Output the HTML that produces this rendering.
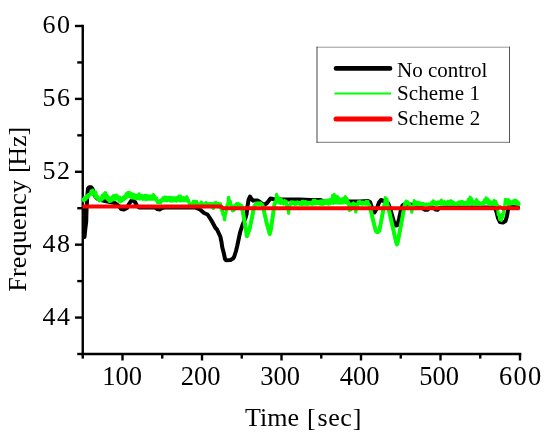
<!DOCTYPE html>
<html><head><meta charset="utf-8"><title>Frequency chart</title>
<style>html,body{margin:0;padding:0;background:#fff}body{width:550px;height:440px;overflow:hidden}</style></head>
<body>
<svg width="550" height="440" viewBox="0 0 550 440" style="display:block">
<rect width="550" height="440" fill="#fff"/>
<g stroke="#000" stroke-width="2.4" fill="none" stroke-linecap="butt">
<path d="M82.75,24.75 V355.25"/>
<path d="M81.5,354.0 H521.25"/>
<path d="M74.95,26.00 H82.75"/>
<path d="M77.25,62.44 H82.75"/>
<path d="M74.95,98.89 H82.75"/>
<path d="M77.25,135.33 H82.75"/>
<path d="M74.95,171.78 H82.75"/>
<path d="M77.25,208.22 H82.75"/>
<path d="M74.95,244.67 H82.75"/>
<path d="M77.25,281.11 H82.75"/>
<path d="M74.95,317.56 H82.75"/>
<path d="M77.25,354.00 H82.75"/>
<path d="M82.75,354.0 V358.60"/>
<path d="M122.50,354.0 V360.50"/>
<path d="M162.25,354.0 V358.60"/>
<path d="M202.00,354.0 V360.50"/>
<path d="M241.75,354.0 V358.60"/>
<path d="M281.50,354.0 V360.50"/>
<path d="M321.25,354.0 V358.60"/>
<path d="M361.00,354.0 V360.50"/>
<path d="M400.75,354.0 V358.60"/>
<path d="M440.50,354.0 V360.50"/>
<path d="M480.25,354.0 V358.60"/>
<path d="M520.00,354.0 V360.50"/>
</g>
<g font-family="'Liberation Serif','Times New Roman',serif" font-size="26" fill="#000">
<text x="71.4" y="33.4" text-anchor="end" letter-spacing="1.5">60</text>
<text x="71.4" y="106.3" text-anchor="end" letter-spacing="1.5">56</text>
<text x="71.4" y="179.2" text-anchor="end" letter-spacing="1.5">52</text>
<text x="71.4" y="252.1" text-anchor="end" letter-spacing="1.5">48</text>
<text x="71.4" y="325.0" text-anchor="end" letter-spacing="1.5">44</text>
<text x="122.2" y="385.3" text-anchor="middle" font-size="26.5">100</text>
<text x="200.7" y="385.3" text-anchor="middle" font-size="26.5">200</text>
<text x="280.2" y="385.3" text-anchor="middle" font-size="26.5">300</text>
<text x="359.7" y="385.3" text-anchor="middle" font-size="26.5">400</text>
<text x="439.2" y="385.3" text-anchor="middle" font-size="26.5">500</text>
<text x="520.8" y="385.3" text-anchor="middle" font-size="26.5" letter-spacing="1.2">600</text>
</g>
<text font-family="'Liberation Serif','Times New Roman',serif" font-size="26" x="245" y="426.3">Time <tspan dx="1.65">[</tspan><tspan dx="1.65">s</tspan><tspan dx="0.6">e</tspan><tspan dx="0.6">c</tspan><tspan dx="0.8">]</tspan></text>
<text font-family="'Liberation Serif','Times New Roman',serif" font-size="26" transform="translate(26,291.75) rotate(-90)"><tspan letter-spacing="0.24">Frequency</tspan> <tspan dx="0.4">[</tspan><tspan dx="-1.5">H</tspan>z]</text>
<path d="M84.5,237.0 L85.3,229.0 L86.2,222.0 L86.6,208.0 L87.3,196.0 L88.0,188.5 L89.0,187.3 L91.3,187.3 L92.5,189.0 L93.5,193.0 L95.0,196.0 L97.0,198.5 L99.0,199.5 L101.0,200.0 L105.0,201.0 L110.0,202.0 L115.0,203.0 L119.0,206.0 L121.0,209.0 L124.0,209.5 L127.0,208.0 L129.0,204.0 L131.0,201.0 L133.0,200.5 L135.0,202.0 L137.0,206.0 L139.0,207.5 L155.0,207.5 L157.0,209.0 L160.0,209.5 L162.0,208.0 L165.0,207.5 L195.0,207.5 L200.0,209.5 L204.0,213.0 L207.5,214.5 L210.5,219.0 L212.0,221.5 L215.5,228.0 L217.0,229.5 L220.3,236.5 L221.5,242.0 L222.2,247.0 L224.0,254.0 L225.0,259.0 L226.0,260.3 L230.5,260.0 L233.0,258.5 L234.1,257.0 L236.0,251.0 L237.2,246.0 L238.9,238.0 L240.2,232.0 L242.0,226.5 L243.5,222.5 L245.5,218.0 L246.6,214.0 L247.4,207.0 L248.5,200.0 L250.0,196.5 L251.5,199.0 L253.0,200.5 L257.5,200.5 L260.0,202.0 L264.0,205.0 L267.0,203.0 L270.5,198.5 L273.0,199.0 L280.0,199.5 L290.0,199.5 L300.0,199.5 L310.0,200.0 L321.0,200.0 L323.0,201.5 L330.0,201.5 L345.0,201.5 L360.0,201.5 L368.0,201.0 L370.0,202.0 L372.0,208.0 L374.5,212.5 L377.0,208.0 L379.0,202.5 L381.0,200.0 L384.0,201.0 L388.0,203.0 L390.0,208.0 L392.0,215.0 L394.0,222.0 L396.0,225.5 L397.5,225.0 L399.0,219.0 L401.0,210.0 L402.5,205.5 L404.0,204.5 L410.0,204.5 L416.0,205.0 L420.0,206.0 L423.0,208.5 L425.0,209.8 L427.5,209.8 L429.5,208.0 L433.0,207.5 L435.5,209.5 L437.5,209.8 L439.5,208.0 L445.0,207.5 L495.0,207.5 L496.5,212.0 L498.0,218.0 L500.0,222.0 L503.0,222.5 L505.5,221.0 L507.0,216.0 L508.0,210.0 L509.0,207.5 L512.0,207.0 L518.0,207.5" fill="none" stroke="#000" stroke-width="4" stroke-linejoin="round" stroke-linecap="round"/>
<path d="M85.2,207 V227" fill="none" stroke="#000" stroke-width="3"/>
<path d="M83.0,199.1 L83.8,200.8 L84.6,197.7 L85.4,199.5 L86.2,196.2 L87.0,198.0 L87.8,194.8 L88.6,196.8 L89.4,194.3 L90.2,194.9 L91.0,192.2 L91.8,193.9 L92.6,190.1 L93.4,194.1 L94.2,192.0 L95.0,196.6 L95.8,192.0 L96.6,198.2 L97.4,196.3 L98.2,199.6 L99.0,197.9 L99.8,200.8 L100.6,198.1 L101.4,200.0 L102.2,195.6 L103.0,198.9 L103.8,193.9 L104.6,197.3 L105.4,192.6 L106.2,198.2 L107.0,195.0 L107.8,199.8 L108.6,197.3 L109.4,201.4 L110.2,199.6 L111.0,201.1 L111.8,197.1 L112.6,200.0 L113.4,195.7 L114.2,199.4 L115.0,195.7 L115.8,199.2 L116.6,195.1 L117.4,198.9 L118.2,196.7 L119.0,201.1 L119.8,197.1 L120.6,201.8 L121.4,199.1 L122.2,200.9 L123.0,197.7 L123.8,199.7 L124.6,196.0 L125.4,198.5 L126.2,193.9 L127.0,197.3 L127.8,192.6 L128.6,196.4 L129.4,192.4 L130.2,196.8 L131.0,193.3 L131.8,197.8 L132.6,194.0 L133.4,198.2 L134.2,194.6 L135.0,198.1 L135.8,195.3 L136.6,198.8 L137.4,195.5 L138.2,198.6 L139.0,193.9 L139.8,199.1 L140.6,195.5 L141.4,198.6 L142.2,195.6 L143.0,199.3 L143.8,195.9 L144.6,199.1 L145.4,195.4 L146.2,199.7 L147.0,195.5 L147.8,199.2 L148.6,196.1 L149.4,199.1 L150.2,195.9 L151.0,199.2 L151.8,196.1 L152.6,199.1 L153.4,194.6 L154.2,199.2 L155.0,196.6 L155.8,199.8 L156.6,198.2 L157.4,202.5 L158.2,200.9 L159.0,202.6 L159.8,200.7 L160.6,202.7 L161.4,199.9 L162.2,201.0 L163.0,197.9 L163.8,200.2 L164.6,197.1 L165.4,200.7 L166.2,197.1 L167.0,200.9 L167.8,197.7 L168.6,200.2 L169.4,197.5 L170.2,201.0 L171.0,197.5 L171.8,200.9 L172.6,197.7 L173.4,201.0 L174.2,197.9 L175.0,200.7 L175.8,197.9 L176.6,201.2 L177.4,197.3 L178.2,200.3 L179.0,196.0 L179.8,201.0 L180.6,196.0 L181.4,200.6 L182.2,197.9 L183.0,200.6 L183.8,197.7 L184.6,200.6 L185.4,197.9 L186.2,200.9 L187.0,196.7 L187.8,201.2 L188.6,200.3 L189.4,204.8 L190.2,203.8 L191.0,206.2 L191.8,203.9 L192.6,206.0 L193.4,201.4 L194.2,205.8 L195.0,201.4 L195.8,206.4 L196.6,201.4 L197.4,206.5 L198.2,203.9 L199.0,206.3 L199.8,203.9 L200.6,206.5 L201.4,202.1 L202.2,206.3 L203.0,203.9 L203.8,206.2 L204.6,203.9 L205.4,206.7 L206.2,202.5 L207.0,206.5 L207.8,203.7 L208.6,206.3 L209.4,203.7 L210.2,206.4 L211.0,203.6 L211.8,207.2 L212.6,203.9 L213.4,208.4 L214.2,203.1 L215.0,206.2 L215.8,202.5 L216.6,205.8 L217.4,203.5 L218.2,206.3 L219.0,203.6 L219.8,207.5 L220.6,203.9 L221.4,210.2 L222.2,208.4 L223.0,214.8 L223.8,215.5 L224.6,219.8 L225.4,213.8 L226.2,211.8 L227.0,204.8 L227.8,204.8 L228.6,197.4 L229.4,200.9 L230.2,201.0 L231.0,205.9 L231.8,205.8 L232.6,211.0 L233.4,207.2 L234.2,210.3 L235.0,205.3 L235.8,206.7 L236.6,203.6 L237.4,205.8 L238.2,203.6 L239.0,205.4 L239.8,204.4 L240.6,206.0 L241.4,205.4 L242.2,209.5 L243.0,211.9 L243.8,217.7 L244.6,221.6 L245.4,227.3 L246.2,231.4 L247.0,236.3 L247.8,233.4 L248.6,232.1 L249.4,229.0 L250.2,226.6 L251.0,221.8 L251.8,218.8 L252.6,213.9 L253.4,210.8 L254.2,206.7 L255.0,205.7 L255.8,203.2 L256.6,204.1 L257.4,202.9 L258.2,204.3 L259.0,202.9 L259.8,204.3 L260.6,202.9 L261.4,204.2 L262.2,204.3 L263.0,207.2 L263.8,209.9 L264.6,214.4 L265.4,216.9 L266.2,221.4 L267.0,223.9 L267.8,227.6 L268.6,229.5 L269.4,233.1 L270.2,231.9 L271.0,229.1 L271.8,222.7 L272.6,218.1 L273.4,211.6 L274.2,206.7 L275.0,201.5 L275.8,203.0 L276.6,194.3 L277.4,200.1 L278.2,197.4 L279.0,202.7 L279.8,199.4 L280.6,203.5 L281.4,199.4 L282.2,203.2 L283.0,200.9 L283.8,204.0 L284.6,200.6 L285.4,203.5 L286.2,201.3 L287.0,208.2 L287.8,207.1 L288.6,213.3 L289.4,205.4 L290.2,205.4 L291.0,201.9 L291.8,203.7 L292.6,202.0 L293.4,203.8 L294.2,202.1 L295.0,204.4 L295.8,202.3 L296.6,204.2 L297.4,202.0 L298.2,203.8 L299.0,202.4 L299.8,204.1 L300.6,202.5 L301.4,204.3 L302.2,201.4 L303.0,204.3 L303.8,201.5 L304.6,204.0 L305.4,201.6 L306.2,204.3 L307.0,202.2 L307.8,204.4 L308.6,202.4 L309.4,203.9 L310.2,202.3 L311.0,204.1 L311.8,202.1 L312.6,204.3 L313.4,200.3 L314.2,204.0 L315.0,200.1 L315.8,204.0 L316.6,201.4 L317.4,203.6 L318.2,201.3 L319.0,203.8 L319.8,201.1 L320.6,204.1 L321.4,200.9 L322.2,204.3 L323.0,201.0 L323.8,204.2 L324.6,200.8 L325.4,203.6 L326.2,200.5 L327.0,203.7 L327.8,200.1 L328.6,204.1 L329.4,199.9 L330.2,203.8 L331.0,199.2 L331.8,202.8 L332.6,195.5 L333.4,203.4 L334.2,194.4 L335.0,203.0 L335.8,196.0 L336.6,202.8 L337.4,196.7 L338.2,203.1 L339.0,198.4 L339.8,203.1 L340.6,199.6 L341.4,203.0 L342.2,198.8 L343.0,203.0 L343.8,198.0 L344.6,202.7 L345.4,196.6 L346.2,202.5 L347.0,198.5 L347.8,204.0 L348.6,202.5 L349.4,210.5 L350.2,203.9 L351.0,209.6 L351.8,204.1 L352.6,204.9 L353.4,202.9 L354.2,207.2 L355.0,204.1 L355.8,212.0 L356.6,205.0 L357.4,206.3 L358.2,201.8 L359.0,203.8 L359.8,201.6 L360.6,203.9 L361.4,202.2 L362.2,204.3 L363.0,202.2 L363.8,203.8 L364.6,202.3 L365.4,204.0 L366.2,201.4 L367.0,204.1 L367.8,201.4 L368.6,203.9 L369.4,205.0 L370.2,208.9 L371.0,210.9 L371.8,215.2 L372.6,217.7 L373.4,222.0 L374.2,224.2 L375.0,228.3 L375.8,230.5 L376.6,232.0 L377.4,231.6 L378.2,232.1 L379.0,230.7 L379.8,228.7 L380.6,223.6 L381.4,220.4 L382.2,215.2 L383.0,212.0 L383.8,207.0 L384.6,204.8 L385.4,197.7 L386.2,202.5 L387.0,199.2 L387.8,205.9 L388.6,208.2 L389.4,212.6 L390.2,215.3 L391.0,219.7 L391.8,222.4 L392.6,226.8 L393.4,229.6 L394.2,234.1 L395.0,236.8 L395.8,241.3 L396.6,242.9 L397.4,243.5 L398.2,239.2 L399.0,235.9 L399.8,230.8 L400.6,227.4 L401.4,222.3 L402.2,218.9 L403.0,213.6 L403.8,210.1 L404.6,205.3 L405.4,203.4 L406.2,201.1 L407.0,204.0 L407.8,201.9 L408.6,204.2 L409.4,203.5 L410.2,207.9 L411.0,206.2 L411.8,212.2 L412.6,206.4 L413.4,207.5 L414.2,200.6 L415.0,204.3 L415.8,202.0 L416.6,204.7 L417.4,202.4 L418.2,204.6 L419.0,202.7 L419.8,204.8 L420.6,203.1 L421.4,204.6 L422.2,203.5 L423.0,204.7 L423.8,203.8 L424.6,204.8 L425.4,204.1 L426.2,204.7 L427.0,204.1 L427.8,204.8 L428.6,204.1 L429.4,204.7 L430.2,204.1 L431.0,204.9 L431.8,202.2 L432.6,204.0 L433.4,200.8 L434.2,204.2 L435.0,202.0 L435.8,204.4 L436.6,203.0 L437.4,204.3 L438.2,201.9 L439.0,203.8 L439.8,202.0 L440.6,204.1 L441.4,200.0 L442.2,204.1 L443.0,201.9 L443.8,204.3 L444.6,201.7 L445.4,204.3 L446.2,202.5 L447.0,203.9 L447.8,201.5 L448.6,204.3 L449.4,201.5 L450.2,204.3 L451.0,200.7 L451.8,204.2 L452.6,201.8 L453.4,204.0 L454.2,202.8 L455.0,204.3 L455.8,203.9 L456.6,204.3 L457.4,202.9 L458.2,204.0 L459.0,201.9 L459.8,204.0 L460.6,201.8 L461.4,204.2 L462.2,201.4 L463.0,204.1 L463.8,202.5 L464.6,204.0 L465.4,202.4 L466.2,204.4 L467.0,201.9 L467.8,203.5 L468.6,199.4 L469.4,204.4 L470.2,197.2 L471.0,203.2 L471.8,198.9 L472.6,203.7 L473.4,201.4 L474.2,204.3 L475.0,202.0 L475.8,203.9 L476.6,199.6 L477.4,204.0 L478.2,201.8 L479.0,204.2 L479.8,202.8 L480.6,204.2 L481.4,203.1 L482.2,203.9 L483.0,202.1 L483.8,203.6 L484.6,199.9 L485.4,202.7 L486.2,197.9 L487.0,202.7 L487.8,199.0 L488.6,203.7 L489.4,200.9 L490.2,204.4 L491.0,201.9 L491.8,203.7 L492.6,202.2 L493.4,204.1 L494.2,200.5 L495.0,204.3 L495.8,201.5 L496.6,205.0 L497.4,204.9 L498.2,214.7 L499.0,214.4 L499.8,219.4 L500.6,215.5 L501.4,220.3 L502.2,214.3 L503.0,216.6 L503.8,208.6 L504.6,206.8 L505.4,199.3 L506.2,203.2 L507.0,199.9 L507.8,203.7 L508.6,199.7 L509.4,204.1 L510.2,201.5 L511.0,204.0 L511.8,202.0 L512.6,203.7 L513.4,200.9 L514.2,203.2 L515.0,200.1 L515.8,203.6 L516.6,200.7 L517.4,203.4 L518.2,202.3 L519.0,204.3" fill="none" stroke="#00ff00" stroke-width="3.2" stroke-linejoin="round" stroke-linecap="round"/>
<path d="M241.5,206.0 L243.0,212.4 L245.7,228.7 L246.9,236.3 L249.7,228.7 L253.5,210.0 L254.5,206.0" fill="none" stroke="#00ff00" stroke-width="3.9" stroke-linejoin="round" stroke-linecap="round"/>
<path d="M262.8,206.0 L263.7,210.0 L267.0,224.4 L269.8,234.2 L271.0,228.7 L273.7,210.0 L274.5,204.0" fill="none" stroke="#00ff00" stroke-width="3.9" stroke-linejoin="round" stroke-linecap="round"/>
<path d="M369.5,206.0 L370.9,211.0 L373.5,222.0 L375.8,231.0 L377.5,232.2 L379.3,231.0 L381.0,222.0 L383.1,211.0 L384.3,205.0" fill="none" stroke="#00ff00" stroke-width="3.9" stroke-linejoin="round" stroke-linecap="round"/>
<path d="M388.0,206.0 L388.9,210.0 L392.5,226.0 L396.0,241.8 L397.0,244.5 L397.8,241.8 L401.0,225.0 L404.3,207.0 L405.3,203.0" fill="none" stroke="#00ff00" stroke-width="3.9" stroke-linejoin="round" stroke-linecap="round"/>
<path d="M82.5,206.5 L221.0,206.5 L223.0,208.3 L497.0,208.3 L500.0,207.3 L503.0,208.3 L506.0,208.3 L508.0,207.3 L511.0,208.3 L519.6,208.3" fill="none" stroke="#ff0000" stroke-width="4" stroke-linejoin="round" stroke-linecap="butt"/>
<rect x="317" y="47.2" width="192.5" height="95.1" fill="#fff"/>
<path d="M316.5,47.2 H510" stroke="#999" stroke-width="1" fill="none"/>
<path d="M316.5,142.3 H510" stroke="#777" stroke-width="1" fill="none"/>
<path d="M317,46.7 V142.8" stroke="#444" stroke-width="1" fill="none"/>
<path d="M509.5,46.7 V142.8" stroke="#555" stroke-width="1" fill="none"/>
<path d="M336,68.4 H390" stroke="#000" stroke-width="4.6" stroke-linecap="round"/>
<path d="M334.5,93.6 H391" stroke="#00ff00" stroke-width="2" stroke-linecap="butt"/>
<path d="M336,119 H390" stroke="#ff0000" stroke-width="5" stroke-linecap="round"/>
<g font-family="'Liberation Serif','Times New Roman',serif" font-size="21" fill="#000">
<text x="397" y="76.6">No control</text>
<text x="397" y="99.6" letter-spacing="0.1">Scheme 1</text>
<text x="397" y="124.9" letter-spacing="0.15">Scheme 2</text>
</g>
</svg>
</body></html>
